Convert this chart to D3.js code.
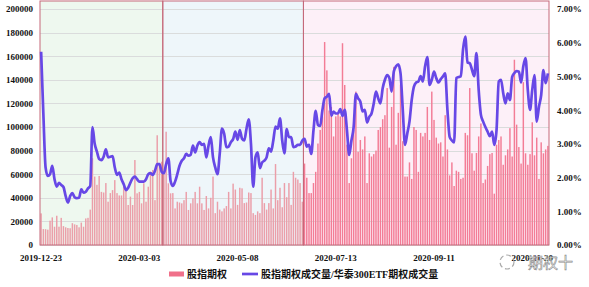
<!DOCTYPE html>
<html>
<head>
<meta charset="utf-8">
<script src="https://cdn.jsdelivr.net/npm/d3@7/dist/d3.min.js"></script>
<style>
    body { margin: 0; background: #ffffff; }
</style>
</head>
<body>
<script>
    // trading calendar
    var startDate = "2019-12-23";
    var dayCount = 228;
    var holidays = ["2020-01-01", "2020-01-24", "2020-01-27", "2020-01-28", "2020-01-29", "2020-01-30", "2020-01-31",
        "2020-04-06", "2020-05-01", "2020-05-04", "2020-05-05", "2020-06-25", "2020-06-26",
        "2020-10-01", "2020-10-02", "2020-10-05", "2020-10-06", "2020-10-07", "2020-10-08"];
    var tickLabels = ["2019-12-23", "2020-03-03", "2020-05-08", "2020-07-13", "2020-09-11", "2020-11-20"];

    // shaded periods (first trading day of each)
    var periodStarts = ["2019-12-23", "2020-03-18", "2020-06-19"];
    var periodFills = ["#eef8ef", "#eef6fa", "#fdf0f8"];

    // 股指期权 volume
    var optionVolume = [26800, 13500, 13400, 13000, 20600, 23400, 15500, 24800, 15500, 23000,
        16000, 15000, 14400, 14200, 18500, 17500, 17000, 15000, 19000, 15500,
        22500, 23000, 30000, 73500, 58000, 51000, 58500, 45000, 44500, 52500,
        36700, 44000, 46500, 55000, 44000, 42000, 42000, 49400, 46600, 33900,
        41000, 33900, 72000, 43800, 45000, 35300, 52300, 36700, 49400, 62000,
        63600, 38000, 93000, 69000, 70600, 60000, 96000, 52300, 43800, 44000,
        31000, 36700, 36000, 35300, 38000, 45000, 29700, 35300, 39500, 45000,
        35300, 49400, 35300, 29700, 41500, 31000, 40000, 58000, 27000, 36700,
        30000, 28500, 31000, 33000, 45000, 31000, 52000, 47000, 34000, 48500,
        48000, 35500, 36000, 44500, 44000, 27000, 25500, 28500, 27000, 57000,
        35500, 30000, 35500, 47000, 31000, 68600, 38000, 48500, 32000, 52500,
        40500, 52500, 34000, 62000, 57000, 55500, 52500, 36700, 69000, 57000,
        44000, 44000, 52500, 62000, 86000, 97500, 109000, 172000, 148000, 114000,
        117000, 92000, 109000, 112000, 109000, 171000, 135600, 85000, 52500, 73500,
        97500, 130000, 79000, 89000, 81000, 92000, 52500, 77700, 75000, 77000,
        80000, 97500, 100000, 106600, 110000, 133000, 82500, 117000, 151000, 85000,
        112000, 136000, 88000, 58000, 58000, 70000, 56000, 100000, 97500, 62000,
        95000, 92000, 95000, 117000, 89000, 130000, 106000, 91000, 86000, 87000,
        75000, 110000, 81000, 59000, 70000, 50000, 63000, 62000, 56000, 57000,
        95000, 93000, 133000, 77700, 63000, 78000, 92000, 103000, 52500, 55500,
        67000, 77000, 78000, 43500, 85000, 89000, 92000, 68000, 76000, 81000,
        99000, 75000, 157000, 102000, 83000, 69000, 138000, 77700, 68000, 77000,
        104000, 76000, 91000, 56000, 87000, 77700, 81000, 84000];

    // 股指期权成交量/华泰300ETF期权成交量 (%)
    var volumeRatio = [5.73, 3.9, 2.3, 2.05, 2.1, 2.35, 1.95, 1.73, 1.84, 1.78,
        1.72, 1.45, 1.26, 1.45, 1.54, 1.42, 1.39, 1.40, 1.65, 1.55,
        1.58, 1.68, 1.75, 3.5, 3.0, 2.77, 2.55, 2.52, 2.62, 2.84,
        2.6, 2.62, 2.64, 2.3, 2.08, 2.15, 1.95, 1.8, 1.63, 1.7,
        1.85, 1.98, 2.03, 1.95, 1.88, 1.88, 1.88, 1.95, 2.1, 2.13,
        2.08, 2.2, 2.4, 2.4, 2.17, 2.13, 2.4, 2.57, 1.9, 1.75,
        1.88, 2.1, 2.35, 2.5, 2.57, 2.7, 2.65, 2.68, 2.95, 2.75,
        2.95, 3.05, 2.97, 3.0, 2.6, 2.95, 3.2, 2.6, 2.3, 2.1,
        2.7, 3.45, 3.3, 2.9, 2.92, 3.05, 3.14, 3.36, 3.12, 3.41,
        3.15, 3.1, 3.45, 3.73, 3.0, 1.73, 2.6, 2.75, 2.28, 2.45,
        2.5, 2.6, 2.87, 2.77, 3.1, 3.51, 3.45, 3.76, 3.1, 2.72,
        3.44, 3.2, 3.2, 2.9, 2.92, 2.97, 2.97, 3.1, 3.15, 2.92,
        2.97, 2.7, 3.4, 3.98, 3.56, 3.53, 4.0, 4.35, 4.4, 4.48,
        3.83, 3.96, 3.9, 3.91, 4.03, 3.83, 4.01, 3.4, 2.67, 3.1,
        3.5, 4.48, 4.35, 4.25, 3.96, 4.01, 3.63, 3.8, 3.9, 4.2,
        4.55, 4.35, 4.2, 4.65, 4.9, 5.04, 4.95, 4.55, 5.15, 5.3,
        5.36, 5.09, 4.01, 2.97, 3.3, 3.66, 4.3, 4.7, 4.82, 4.85,
        5.01, 4.85, 5.3, 5.57, 4.75, 4.9, 5.14, 4.95, 4.82, 4.92,
        5.0, 5.09, 4.01, 3.21, 3.1, 3.04, 4.95, 4.98, 5.0, 5.8,
        6.18, 5.41, 5.39, 5.2, 5.01, 5.69, 4.6, 3.86, 3.66, 3.5,
        3.36, 3.23, 3.36, 2.97, 3.41, 4.85, 4.9, 4.5, 4.2, 4.5,
        4.3, 4.99, 5.1, 5.16, 5.14, 4.82, 5.3, 5.54, 4.6, 4.01,
        4.6, 5.04, 3.66, 4.1, 4.45, 5.19, 4.8, 5.09];

    var leftTicks = [0, 20000, 40000, 60000, 80000, 100000, 120000, 140000, 160000, 180000, 200000];
    var rightTicks = [0, 1, 2, 3, 4, 5, 6, 7];

    // build the list of trading days
    var fmt = d3.timeFormat("%Y-%m-%d");
    var dates = [];
    var cur = d3.timeParse("%Y-%m-%d")(startDate);
    while (dates.length < dayCount) {
        var s = fmt(cur);
        if (cur.getDay() != 0 && cur.getDay() != 6 && holidays.indexOf(s) < 0) dates.push(s);
        cur = d3.timeDay.offset(cur, 1);
    }

    var width = 589, height = 287;
    var margin = {"top": 9, "bottom": 42, "left": 40, "right": 40};
    var serif = "'Liberation Serif', 'Times New Roman', 'Noto Sans CJK SC', serif";

    var svg = d3.select("body")
        .append("svg")
        .attr("width", width)
        .attr("height", height);

    var xScale = d3.scaleBand()
        .domain(dates)
        .range([margin.left, width - margin.right])
        .paddingInner(0.35)
        .paddingOuter(0.175);

    var yLeft = d3.scaleLinear()
        .domain([0, 200000])
        .range([height - margin.bottom, margin.top]);

    var yRight = d3.scaleLinear()
        .domain([0, 7])
        .range([height - margin.bottom, margin.top]);

    var step = xScale.step();
    var plotTop = margin.top - 8;
    var plotBottom = yLeft(0);

    //period backgrounds
    var periods = periodStarts.map(function(d, i) {
        var a = dates.indexOf(d);
        var b = i < periodStarts.length - 1 ? dates.indexOf(periodStarts[i + 1]) : dates.length;
        return {"start": a, "end": b, "fill": periodFills[i]};
    });

    svg.append("g")
        .attr("id", "periods")
        .selectAll("rect")
        .data(periods)
        .enter()
        .append("rect")
        .attr("x", d => xScale(dates[d.start]) - step * 0.175)
        .attr("y", plotTop)
        .attr("width", d => (d.end - d.start) * step)
        .attr("height", plotBottom - plotTop)
        .attr("fill", d => d.fill);

    //grid lines
    svg.append("g")
        .attr("id", "grid")
        .selectAll("line")
        .data(leftTicks)
        .enter()
        .append("line")
        .attr("x1", margin.left)
        .attr("x2", width - margin.right)
        .attr("y1", d => Math.round(yLeft(d)) + 0.5)
        .attr("y2", d => Math.round(yLeft(d)) + 0.5)
        .attr("stroke", "#dadcdc")
        .attr("stroke-width", 1);

    //bars
    var lastStart = periods[periods.length - 1].start;
    svg.append("g")
        .attr("id", "bars")
        .selectAll("rect")
        .data(optionVolume)
        .enter()
        .append("rect")
        .attr("x", (d, i) => xScale(dates[i]))
        .attr("y", d => yLeft(d))
        .attr("width", xScale.bandwidth())
        .attr("height", d => plotBottom - yLeft(d))
        .attr("fill", (d, i) => i >= lastStart ? "#f37c96" : "#eb9ea9");

    //period borders
    svg.append("g")
        .attr("id", "period_borders")
        .selectAll("rect")
        .data(periods)
        .enter()
        .append("rect")
        .attr("x", d => xScale(dates[d.start]) - step * 0.175)
        .attr("y", plotTop)
        .attr("width", d => (d.end - d.start) * step)
        .attr("height", plotBottom - plotTop)
        .attr("fill", "none")
        .attr("stroke", "#c5687a")
        .attr("stroke-width", 1);

    //ratio line
    var line = d3.line()
        .x((d, i) => xScale(dates[i]) + xScale.bandwidth() / 2)
        .y(d => yRight(d))
        .curve(d3.curveMonotoneX);

    svg.append("path")
        .datum(volumeRatio)
        .attr("d", line)
        .attr("fill", "none")
        .attr("stroke", "#6748e6")
        .attr("stroke-width", 2.7)
        .attr("stroke-linejoin", "round");

    //left axis
    var leftAxis = svg.append("g")
        .attr("transform", "translate(" + margin.left + ",0)")
        .call(d3.axisLeft(yLeft).tickValues(leftTicks).tickSize(0).tickPadding(7).tickFormat(d3.format("d")));
    leftAxis.select(".domain").remove();

    //right axis
    var rightAxis = svg.append("g")
        .attr("transform", "translate(" + (width - margin.right) + ",0)")
        .call(d3.axisRight(yRight).tickValues(rightTicks).tickSize(0).tickPadding(8).tickFormat(d => d.toFixed(2) + "%"));
    rightAxis.select(".domain").remove();

    //bottom labels
    svg.append("g")
        .attr("id", "x_labels")
        .selectAll("text")
        .data(tickLabels)
        .enter()
        .append("text")
        .attr("x", d => xScale(d) + xScale.bandwidth() / 2)
        .attr("y", plotBottom + 16)
        .attr("text-anchor", "middle")
        .text(d => d);

    svg.selectAll("text")
        .style("font-family", serif)
        .style("font-size", "9px")
        .style("font-weight", "700")
        .attr("fill", "#111");

    //legend
    var legend = svg.append("g")
        .attr("id", "legend")
        .style("font-family", serif)
        .style("font-size", "10px")
        .style("font-weight", "700");

    legend.append("rect")
        .attr("x", 169)
        .attr("y", 271.5)
        .attr("width", 15)
        .attr("height", 5)
        .attr("fill", "#f0708a");

    legend.append("text")
        .attr("x", 187)
        .attr("y", 277.5)
        .attr("fill", "#111")
        .text("股指期权");

    legend.append("line")
        .attr("x1", 242)
        .attr("x2", 258)
        .attr("y1", 274)
        .attr("y2", 274)
        .attr("stroke", "#6748e6")
        .attr("stroke-width", 2.7);

    legend.append("text")
        .attr("x", 261)
        .attr("y", 277.5)
        .attr("fill", "#111")
        .text("股指期权成交量/华泰300ETF期权成交量");

    //watermark
    var mark = svg.append("g").attr("id", "watermark");
    mark.append("circle")
        .attr("cx", 507)
        .attr("cy", 262)
        .attr("r", 7)
        .attr("fill", "none")
        .attr("stroke", "#aaa")
        .attr("stroke-width", 1.2)
        .attr("stroke-dasharray", "5,3");
    mark.append("text")
        .attr("x", 528)
        .attr("y", 268)
        .style("font-family", "'Noto Sans CJK SC', sans-serif")
        .style("font-size", "15px")
        .attr("fill", "rgba(255,255,255,0.85)")
        .attr("stroke", "#8a8a8a")
        .attr("stroke-width", 0.6)
        .text("期权十");
</script>
</body>
</html>
